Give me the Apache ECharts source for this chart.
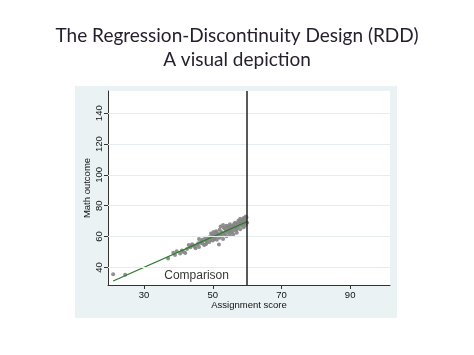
<!DOCTYPE html>
<html>
<head>
<meta charset="utf-8">
<script src="https://cdn.jsdelivr.net/npm/echarts@6/dist/echarts.min.js"></script>
<style>
html,body{margin:0;padding:0;background:#fff;}
#c{width:474px;height:355px;}
</style>
</head>
<body>
<div id="c"></div>
<script>
const titleLines = ["The Regression-Discontinuity Design (RDD)", "A visual depiction"];
const xTicks = [30, 50, 70, 90];
const yTicks = [40, 60, 80, 100, 120, 140];
const cutoff = 60;
const fitLine = [[21, 31.2], [60, 69.7]];
const comparisonLabel = {text: "Comparison", x: 45.3, y: 34.6};
const scatterPoints = [
  [21, 35.5], [24.5, 35.2], [37, 45.8], [38.5, 49.5], [39, 48], [39.5, 50.5], [40.5, 49],
  [41, 51], [41.5, 50], [42, 49.3], [42.5, 52], [43, 54.5], [43.5, 53], [44, 55],
  [44.5, 54.2], [45, 52.5], [45.5, 54.8], [46, 58.5], [46, 53.2], [46.5, 56], [47, 55.5],
  [47, 58], [47.5, 54.6], [48, 57.5], [48, 55], [48.5, 58.5], [49, 56.5], [49, 59.5],
  [49.5, 58], [49.5, 62], [50, 60.5], [50, 57.5], [50.2, 63], [50.5, 59], [50.5, 61.5],
  [51, 60], [51, 63.5], [51.2, 58], [51.5, 62], [51.8, 54.8], [52, 61], [52, 64.5],
  [52, 59.2], [52.5, 63], [52.5, 60.5], [53, 62], [53, 67.5], [53, 58.5], [53.5, 65],
  [53.5, 61.5], [54, 64], [54, 60.2], [54, 67], [54.5, 62.5], [54.5, 66], [55, 63.5],
  [55, 68], [55, 61], [55.5, 65.5], [55.5, 62.8], [56, 67], [56, 64], [56, 61.5],
  [56.5, 66], [56.5, 69], [57, 65], [57, 67.8], [57, 62.5], [57.5, 70.5], [57.5, 66.5],
  [58, 68], [58, 64.8], [58, 71.5], [58.5, 67], [58.5, 69.5], [59, 72], [59, 66],
  [59, 68.5], [59.5, 70], [59.5, 67.5], [59.8, 72.5], [60, 69], [50.8, 62.8], [51.6, 60.8],
  [52.8, 62.2], [53.8, 63.2], [54.8, 64.8], [55.8, 66.2], [56.8, 64.2], [57.8, 69.2],
  [58.8, 70.8], [59.3, 71.2], [48.3, 56.2], [47.8, 59.2], [46.8, 57], [45.8, 55.6],
  [44.8, 53.4], [43.8, 54.2], [49.8, 61], [50.4, 58.2], [52.3, 66.5], [53.2, 65.8],
  [54.2, 66.6], [55.2, 66.9], [56.2, 68.2], [57.2, 68.8], [58.2, 70.2], [59.6, 73]
];
const yGridValues = yTicks;

const chart = echarts.init(document.getElementById('c'), null, {renderer: 'canvas'});
const axisFont = 'Liberation Sans, Arial, sans-serif';
const titleFont = 'Lato, Open Sans, sans-serif';
chart.setOption({
  animation: false,
  backgroundColor: '#ffffff',
  title: [
    {text: titleLines[0], left: 'center', top: 21,
     textStyle: {fontFamily: titleFont, fontSize: 19, fontWeight: 'normal', color: '#26202e'}},
    {text: titleLines[1], left: 'center', top: 45,
     textStyle: {fontFamily: titleFont, fontSize: 19, fontWeight: 'normal', color: '#26202e'}}
  ],
  graphic: [
    {type: 'rect', shape: {x: 75, y: 86, width: 322, height: 232}, style: {fill: '#eaf2f4'}, z: -10}
  ],
  grid: {left: 108, right: 84, top: 91, bottom: 70, show: true, backgroundColor: '#ffffff', borderWidth: 0},
  xAxis: {
    type: 'value', min: 19.5, max: 101.6,
    name: 'Assignment score', nameLocation: 'middle', nameGap: 15, nameMoveOverlap: false,
    nameTextStyle: {fontFamily: axisFont, fontSize: 9.5, color: '#111'},
    axisLine: {show: true, lineStyle: {color: '#333', width: 1}},
    axisTick: {show: true, customValues: xTicks, length: 4, lineStyle: {color: '#333'}},
    axisLabel: {customValues: xTicks, fontFamily: axisFont, fontSize: 9.5, color: '#111', margin: 5},
    splitLine: {show: false}
  },
  yAxis: {
    type: 'value', min: 28.6, max: 154.4,
    name: 'Math outcome', nameLocation: 'middle', nameGap: 16, nameMoveOverlap: false,
    nameTextStyle: {fontFamily: axisFont, fontSize: 9.5, color: '#111'},
    axisLine: {show: true, lineStyle: {color: '#333', width: 1}},
    axisTick: {show: true, customValues: yTicks, length: 4, lineStyle: {color: '#333'}},
    axisLabel: {customValues: yTicks, rotate: 90, fontFamily: axisFont, fontSize: 9.5, color: '#111', margin: 4},
    splitLine: {show: false}
  },
  series: [
    {
      type: 'scatter', data: scatterPoints, symbolSize: 4,
      itemStyle: {color: '#858585', opacity: 0.9},
      z: 2,
      markLine: {
        silent: true, symbol: 'none', label: {show: false}, animation: false,
        data: [
          ...yGridValues.map(v => ({yAxis: v, lineStyle: {color: '#e4ecee', width: 1, type: 'solid'}})),
          {xAxis: cutoff, lineStyle: {color: '#222', width: 1.5, type: 'solid'}}
        ]
      }
    },
    {
      type: 'line', data: fitLine, symbol: 'none', z: 3,
      lineStyle: {color: '#2e7d2e', width: 1.3}
    },
    {
      type: 'scatter', data: [[comparisonLabel.x, comparisonLabel.y]], symbolSize: 0,
      label: {show: true, formatter: comparisonLabel.text, position: 'inside',
        fontFamily: axisFont, fontSize: 12, color: '#000'}
    }
  ]
});
</script>
</body>
</html>
